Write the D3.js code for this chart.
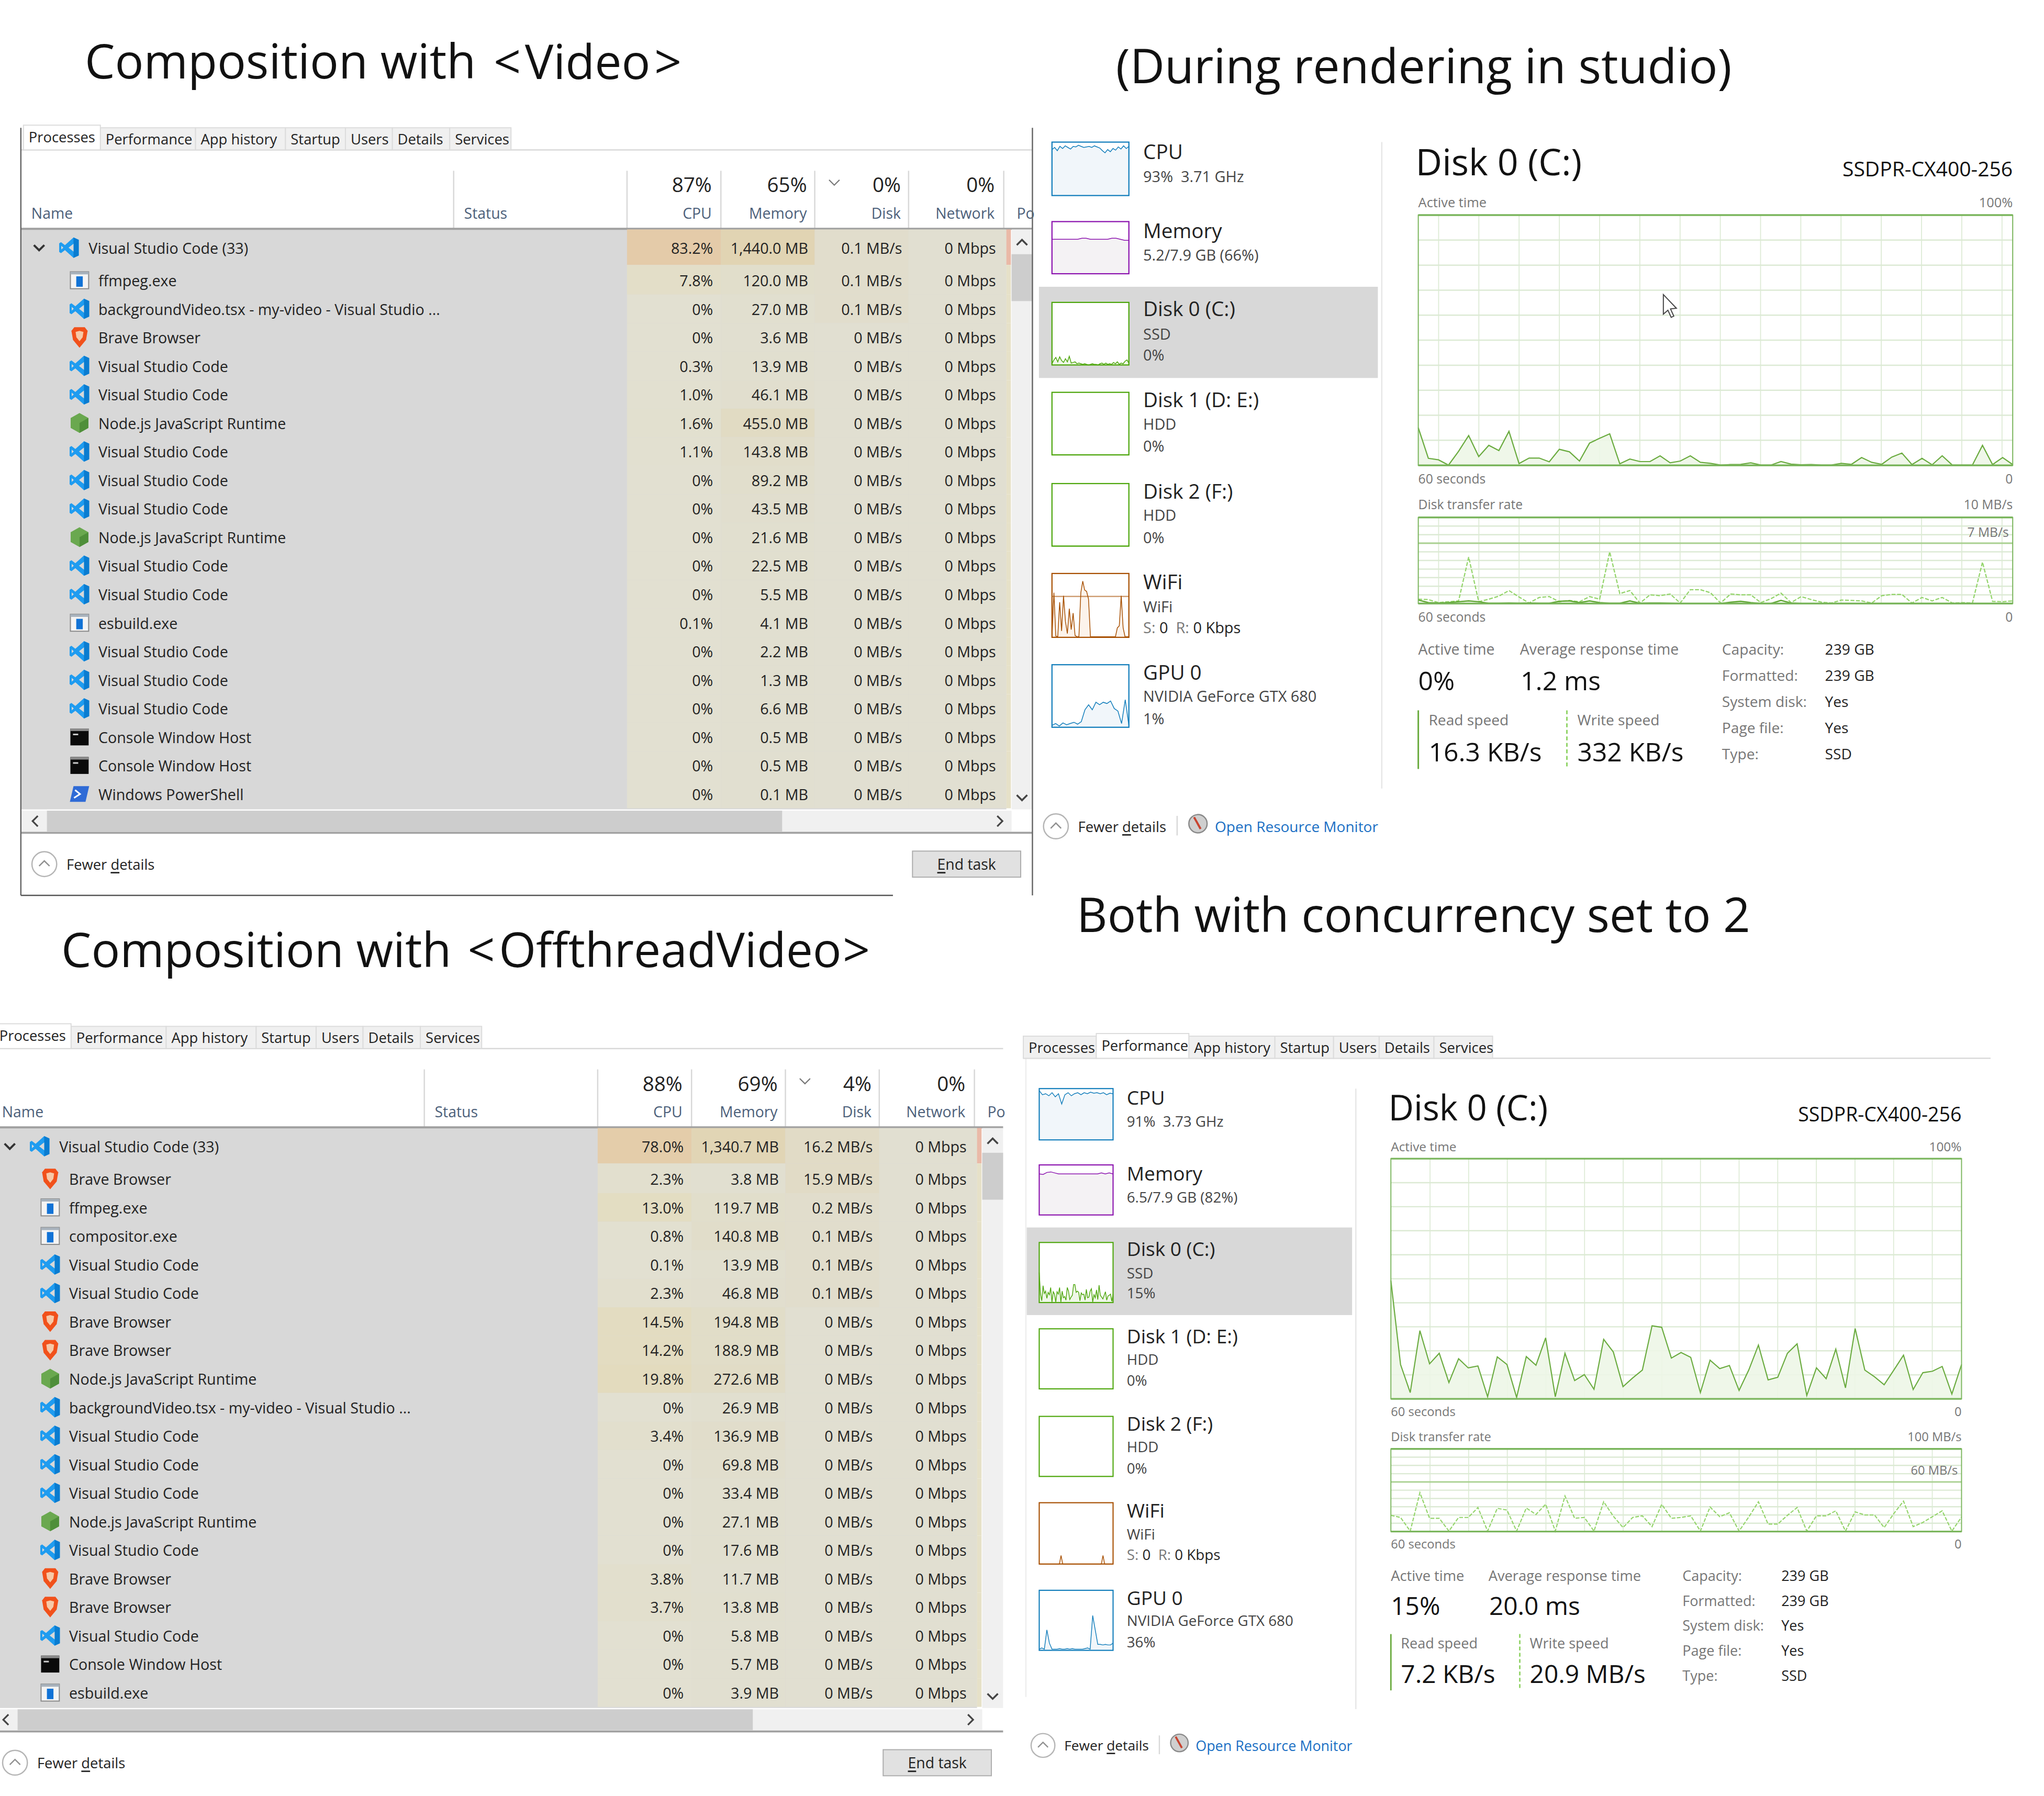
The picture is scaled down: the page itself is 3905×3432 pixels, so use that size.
<!DOCTYPE html>
<html>
<head>
<meta charset="utf-8">
<script src="https://cdn.jsdelivr.net/npm/d3@7"></script>
<style>
html,body{margin:0;padding:0;background:#fff}
svg{display:block}
text{font-family:"Open Sans","Noto Sans",sans-serif}
</style>
</head>
<body>
<div id="caja"></div>
<script>
// ---------- task manager tables ----------
var tabs = ["Processes","Performance","App history","Startup","Users","Details","Services"];
var vs = "Visual Studio Code", br = "Brave Browser", nd = "Node.js JavaScript Runtime", ch = "Console Window Host";

var namesA = [vs+" (33)","ffmpeg.exe","backgroundVideo.tsx - my-video - Visual Studio ...",br,vs,vs,nd,vs,vs,vs,nd,vs,vs,"esbuild.exe",vs,vs,vs,ch,ch,"Windows PowerShell"];
var iconsA = ["code","exe","code","brave","code","code","node","code","code","code","node","code","code","exe","code","code","code","console","console","ps"];
var cpuA  = [83.2,7.8,0,0,0.3,1.0,1.6,1.1,0,0,0,0,0,0.1,0,0,0,0,0,0];
var memA  = [1440.0,120.0,27.0,3.6,13.9,46.1,455.0,143.8,89.2,43.5,21.6,22.5,5.5,4.1,2.2,1.3,6.6,0.5,0.5,0.1];
var diskA = [0.1,0.1,0.1,0,0,0,0,0,0,0,0,0,0,0,0,0,0,0,0,0];
var headA = ["87%","65%","0%","0%"];

var namesC = [vs+" (33)",br,"ffmpeg.exe","compositor.exe",vs,vs,br,br,nd,"backgroundVideo.tsx - my-video - Visual Studio ...",vs,vs,vs,nd,vs,br,br,vs,ch,"esbuild.exe"];
var iconsC = ["code","brave","exe","exe","code","code","brave","brave","node","code","code","code","code","node","code","brave","brave","code","console","exe"];
var cpuC  = [78.0,2.3,13.0,0.8,0.1,2.3,14.5,14.2,19.8,0,3.4,0,0,0,0,3.8,3.7,0,0,0];
var memC  = [1340.7,3.8,119.7,140.8,13.9,46.8,194.8,188.9,272.6,26.9,136.9,69.8,33.4,27.1,17.6,11.7,13.8,5.8,5.7,3.9];
var diskC = [16.2,15.9,0.2,0.1,0.1,0.1,0,0,0,0,0,0,0,0,0,0,0,0,0,0];
var headC = ["88%","69%","4%","0%"];

var headLabels = ["CPU","Memory","Disk","Network"];

// ---------- performance panels, 60 samples ----------
var activeB = [15.0,2.8,2.2,0.1,5.6,11.9,3.5,8,5.9,13.6,0.7,2.9,2.9,1.4,6.4,5.4,1.7,8.9,10.8,12.6,0.6,2.5,1.5,1.5,3.8,1,1.7,3.8,1.2,0.8,0.1,0.3,0.4,1,0.1,0.1,1.5,0.5,0.2,0.3,0.1,0.1,0.8,0.4,3.1,1.2,0.4,3.3,4.9,0.3,2.8,0.2,3.8,0.1,0.1,0.1,8,0.3,3.1,0.3];
var writeB = [0.5,0.45,0.1,0.2,0.3,5.4,0.2,0.5,0.85,1.5,0.75,0.05,0.7,0.8,0.2,0.35,0.2,0.8,0.5,6,1.15,1.5,0.05,1,0.9,1.1,0.05,1.6,1.6,1.25,0.05,1.1,1,1,0.1,0.55,1.2,0.1,0.8,0.45,0.15,0.05,0.4,0.35,0.3,0.05,0.9,1.05,1.05,0.05,0.7,0.3,0.7,0.05,0.1,0.05,4.8,0.25,0.2,0.3];
var readB  = [0.4,0.1,0.05,0.1,0.2,0.3,0.2,0.02,0.02,0.05,0.02,0.05,0.02,0.02,0.25,0.3,0.1,0.3,0.1,0.02,0.02,0.3,0.02,0.05,0.05,0.02,0,0,0,0,0,0.15,0.25,0.1,0,0,0.35,0.05,0,0,0,0,0,0,0,0,0,0,0,0,0,0,0,0,0,0,0,0,0,0];

var activeD = [49.3,14.3,2.6,28.4,14.6,19,6.8,16.7,12.9,13.7,0.9,17.5,14.3,0.6,17.6,14,25.4,0.9,19,7.6,10.1,4,24.8,19.5,5.1,8.7,12,30.4,29.8,17,19.3,17.3,2.6,16.1,12.6,13.9,3.5,12,22.4,7.9,9,19,22.9,1.4,12.9,8.4,20.7,4.6,29.3,12,9.2,5.9,12,18.2,3.9,10.9,11.5,13.5,2,14.3];
var writeD = [19.6,17,0.5,47,16,16,0.5,17,17,29,0.5,28,26,0.5,28.4,20.6,33,0.5,43,16,17,0.5,36,18.5,4.8,17,19,5.9,32.8,16,17,19,0.5,29.7,17.9,22.7,0.5,17.5,36,9,9,19.6,29,0.5,19,19,25,0.5,23.8,20,20,4.8,21.7,36.8,5.9,11,18,25,0.5,17.5];
var readD  = [0.3,0.2,0,0.2,0.1,0,0,0.1,0,0,0,0.1,0,0,0,0.1,0,0,0,0.1,0,0,0,0,0.1,0,0,0,0,0.1,0,0,0,0,0,0,0,0,0,0,0,0.1,0,0,0,0,0,0,0,0,0,0,0,0,0,0,0,0,0,0];

// thumbnails
var cpuSparkB  = [86,90,84,92,88,93,90,87,92,91,94,92,90,91,92,90,93,91,89,84,80,86,82,88,85,91,87,93,88,92];
var memSparkB  = [66,66,66,66,66,66,66,68,68,66,66,66,66,66,68,68,66,64,64];
var diskSparkB = [2,8,12,5,13,7,4,10,5,14,3,4,5,2,3,2,1,2,1,0,1,2,1,1,0,2,3,1,3,1,2,1,4,2,5,1,3,2,6,8,3];
var wifiSparkB = [1,70,2,1,55,10,65,25,6,45,12,38,3,1,1,70,88,74,72,60,1,1,1,1,1,1,1,1,1,1,1,1,1,1,15,18,65,15,1,1,1];
var gpuSparkB  = [3,6,2,7,4,6,8,5,9,28,36,28,40,36,40,38,42,30,26,6,44,3];
var cpuSparkD  = [96,88,90,86,92,84,90,70,88,92,86,90,92,88,92,90,93,91,92,90,92,88,91,90];
var memSparkD  = [82,81,85,86,84,82,82,82,82,82,82,82,82,82,82,82,84,82,84,82];
var diskSparkD = [50,14,3,28,15,19,7,17,13,25,1,18,14,1,18,14,25,1,19,8,10,4,25,19,5,9,12,30,30,17,19,17,3,16,13,14,4,22,8,9,19,23,1,13,8,21,5,29,12,9,6,12,18,4,11,12,14,2,14];
var wifiSparkD = [0,0,0,0,0,0,0,0,0,0,0,0,0,14,0,0,0,0,0,0,0,0,0,0,0,0,0,0,0,0,0,0,0,0,0,0,0,0,14,0,0,0,0,0,0];
var gpuSparkD  = [2,4,2,34,12,2,2,2,3,2,2,3,2,3,2,2,2,2,3,4,2,58,34,10,10,9,10,9,9,12];

var sideNames = ["CPU","Memory","Disk 0 (C:)","Disk 1 (D: E:)","Disk 2 (F:)","WiFi","GPU 0"];
var sideSubB  = ["93%\u00a0 3.71 GHz","5.2/7.9 GB (66%)","SSD","HDD","HDD","WiFi","NVIDIA GeForce GTX 680"];
var sideSubD  = ["91%\u00a0 3.73 GHz","6.5/7.9 GB (82%)","SSD","HDD","HDD","WiFi","NVIDIA GeForce GTX 680"];
var sideThirdB = ["","","0%","0%","0%","","1%"];
var sideThirdD = ["","","15%","0%","0%","","36%"];
var diskInfoLabels = ["Capacity:","Formatted:","System disk:","Page file:","Type:"];
var diskInfoValues = ["239 GB","239 GB","Yes","Yes","SSD"];

// ---------- page ----------
var w = 1568, h = 1378;
var chart = d3.select("#caja").append("svg")
	.attr("width", 3905).attr("height", 3432)
	.attr("viewBox", "0 0 " + w + " " + h)
	.style("background", "#fff");

function label(g, x, y, s, size, color, anchor) {
	return g.append("text").attr("x", x).attr("y", y)
		.attr("dominant-baseline", "central")
		.attr("text-anchor", anchor || "start")
		.attr("font-size", size).attr("fill", color || "#222").text(s);
}

// titles, the <...> part gets a little extra room like the original font
var titles = [
	{s:"Composition with ", tag:"Video", x:65, y:46, size:36.7, g:[4,3,3]},
	{s:"(During rendering in studio)", x:856, y:49.5, size:36.7},
	{s:"Both with concurrency set to 2", x:826, y:701, size:36.4},
	{s:"Composition with ", tag:"OffthreadVideo", x:47, y:728, size:36.6, g:[3,3,1]}
];
titles.forEach(function(t){
	var e = label(chart, t.x, t.y, t.s, t.size, "#111");
	if (t.tag) {
		e.append("tspan").attr("dx", t.g[0]).text("<");
		e.append("tspan").attr("dx", t.g[1]).text(t.tag);
		e.append("tspan").attr("dx", t.g[2]).text(">");
	}
});

// ---------- icons ----------
function icon(g, kind, x, y) {
	var i = g.append("g").attr("transform", "translate(" + (x-8) + "," + (y-8) + ")");
	if (kind == "code") {
		i.append("path").attr("d","M11.4 0.2 L15.4 2 V14 L11.4 15.8 L4.8 9.9 L1.8 12.2 L0.4 11.3 V4.7 L1.8 3.8 L4.8 6.1 Z").attr("fill","#1f9cf0");
		i.append("path").attr("d","M11.4 0.2 L15.4 2 V14 L11.4 15.8 Z").attr("fill","#0a7cd0");
		i.append("path").attr("d","M11.4 5 L7.6 8 L11.4 11 Z").attr("fill","#d8d8d8");
		i.append("path").attr("d","M2 6.6 L3.6 8 L2 9.4 Z").attr("fill","#d8d8d8");
	} else if (kind == "brave") {
		i.append("path").attr("d","M4 0.2 H12 L14.2 3 L13 10 L8 16 L3 10 L1.8 3 Z").attr("fill","#f1511b");
		i.append("path").attr("d","M5 3.8 L8 3 L11 3.8 L10.4 8 L8 11 L5.6 8 Z").attr("fill","#f6c9a8");
	} else if (kind == "node") {
		i.append("path").attr("d","M8 0.4 L14.8 4.2 V11.8 L8 15.6 L1.2 11.8 V4.2 Z").attr("fill","#6aa84f");
		i.append("path").attr("d","M8 8 L14.8 4.2 V11.8 L8 15.6 Z").attr("fill","#4f8f3a");
	} else if (kind == "exe") {
		i.append("rect").attr("x",1).attr("y",1.5).attr("width",14).attr("height",13).attr("fill","#f4f4f4").attr("stroke","#8a8a8a").attr("stroke-width",0.8);
		i.append("rect").attr("x",1).attr("y",1.5).attr("width",14).attr("height",2).attr("fill","#a8b2bc");
		i.append("rect").attr("x",5.5).attr("y",5).attr("width",5).attr("height",8).attr("fill","#1273d6");
	} else if (kind == "console") {
		i.append("rect").attr("x",1).attr("y",1.5).attr("width",14).attr("height",13).attr("fill","#0a0a0a");
		i.append("rect").attr("x",1).attr("y",1.5).attr("width",14).attr("height",2).attr("fill","#8a8a8a");
		i.append("rect").attr("x",3).attr("y",5.5).attr("width",4).attr("height",1.2).attr("fill","#ccc");
	} else if (kind == "ps") {
		i.append("path").attr("d","M3.4 2 H15.4 L12.6 14 H0.6 Z").attr("fill","#2f6bd6");
		i.append("path").attr("d","M4.6 5 L8.4 8 L3.8 11").attr("fill","none").attr("stroke","#fff").attr("stroke-width",1.2);
	}
}

function chevron(g, x, y, up, color, sw) {
	var s = up ? -1 : 1;
	g.append("path").attr("d","M"+(x-4)+","+(y-2*s)+" L"+x+","+(y+2*s)+" L"+(x+4)+","+(y-2*s))
		.attr("fill","none").attr("stroke",color||"#444").attr("stroke-width",sw||1.3);
}

function fewerDetails(g, cx, cy, tx) {
	g.append("circle").attr("cx",cx).attr("cy",cy).attr("r",9.5).attr("fill","#fff").attr("stroke","#b5b5b5").attr("stroke-width",1);
	chevron(g, cx, cy-0.5, true, "#909090", 1);
	var t = label(g, tx, cy, "", 11, "#222");
	t.append("tspan").text("Fewer ");
	t.append("tspan").attr("text-decoration","underline").text("d");
	t.append("tspan").text("etails");
}

// ---------- task manager panel ----------
var tabLeft  = [18,77,150,219,265,301,345,392];
var colLeft  = [481,553,625,697,770];
var colRight = [547,620,692,764];
var cpuColor  = d3.scaleLinear().domain([0,15,85]).range(["#e2e0d1","#e3dcc0","#e4cba8"]);
var memColor  = d3.scaleLinear().domain([0,250,1500]).range(["#e1dfd0","#e1dcc6","#e1d4b2"]);
var diskColor = d3.scaleLinear().domain([0,0.1,20]).range(["#e1dfd1","#e1ddcc","#e1dac4"]);

function fmtCpu(v){ return v == 0 ? "0%" : v.toFixed(1) + "%"; }
function fmtMem(v){ return d3.format(",.1f")(v) + " MB"; }
function fmtDisk(v){ return (v == 0 ? "0" : v.toFixed(1)) + " MB/s"; }

function tabStrip(g, lefts, activeTab, baseY, lineFrom, lineTo) {
	g.append("line").attr("x1",lineFrom).attr("x2",lineTo).attr("y1",baseY).attr("y2",baseY).attr("stroke","#d9d9d9");
	var order = d3.range(tabs.length).filter(function(i){ return i != activeTab; }).concat([activeTab]);
	order.forEach(function(i){
		var active = i == activeTab;
		g.append("rect").attr("x",lefts[i]).attr("y",baseY - (active ? 19 : 17)).attr("width",lefts[i+1]-lefts[i]).attr("height",active ? 19 : 17)
			.attr("fill",active ? "#fff" : "#f0f0f0").attr("stroke","#dcdcdc").attr("stroke-width",0.8);
		label(g, lefts[i]+4, baseY - (active ? 10 : 8.5), tabs[i], 11, "#222");
	});
}

function taskPanel(dx, dy, names, icons, cpu, mem, disk, head, framed) {
	var g = chart.append("g").attr("transform","translate("+dx+","+dy+")");
	var rightEdge = 792;

	tabStrip(g, tabLeft, 0, 115, 16, rightEdge);

	// header
	var rowY = d3.scaleLinear().domain([0,1]).range([215,236.9]);
	[348,481,553,625,697,770].forEach(function(x){
		g.append("line").attr("x1",x).attr("x2",x).attr("y1",131).attr("y2",175).attr("stroke","#d8d8d8");
	});
	label(g, 24, 163.5, "Name", 11.4, "#4c607a");
	label(g, 356, 163.5, "Status", 11.4, "#4c607a");
	headLabels.forEach(function(s,i){
		label(g, colRight[i]-1, 163.5, s, 11.4, "#4c607a", "end");
		label(g, colRight[i]-1, 141.5, head[i], 15.5, "#222", "end");
	});
	chevron(g, 640, 140, false, "#777", 0.9);
	label(g, 780, 163.5, "Po", 11.4, "#4c607a");

	// rows
	g.append("rect").attr("x",16).attr("y",176).attr("width",756).attr("height",445).attr("fill","#d8d8d8");
	g.append("line").attr("x1",16).attr("x2",rightEdge).attr("y1",175.5).attr("y2",175.5).attr("stroke","#a0a0a0").attr("stroke-width",1.6);

	var table = names.map(function(n,i){ return {name:n, icon:icons[i], cpu:cpu[i], mem:mem[i], disk:disk[i], i:i}; });
	function top(d){ return d.i == 0 ? 176 : rowY(d.i-1) - (d.i == 1 ? 11.8 : 10.95); }
	function hgt(d){ return d.i == 0 ? 27.2 : (d.i == 1 ? 22.75 : 21.9); }

	var rows = g.selectAll("g.row").data(table).enter().append("g").attr("class","row");
	var fills = [function(d){return cpuColor(d.cpu);}, function(d){return memColor(d.mem);}, function(d){return diskColor(d.disk);}, function(){return "#e1dfd1";}];
	fills.forEach(function(f,c){
		rows.append("rect").attr("x",colLeft[c]).attr("y",top).attr("width",colLeft[c+1]-colLeft[c]+(c==3?2:0)).attr("height",hgt).attr("fill",f);
	});
	rows.append("rect").attr("x",772).attr("y",top).attr("width",3.5).attr("height",hgt)
		.attr("fill",function(d){ return d.i == 0 ? "#eab9a7" : "#e6e1c8"; });

	function yy(d){ return d.i == 0 ? 190 : rowY(d.i-1); }
	rows.append("text").attr("x",function(d){ return d.i == 0 ? 68 : 75.5; }).attr("y",yy)
		.attr("dominant-baseline","central").attr("font-size",11.5).attr("fill","#222").text(function(d){return d.name;});
	var cols = [function(d){return fmtCpu(d.cpu);}, function(d){return fmtMem(d.mem);}, function(d){return fmtDisk(d.disk);}, function(){return "0 Mbps";}];
	cols.forEach(function(f,c){
		rows.append("text").attr("x",colRight[c]).attr("y",yy).attr("text-anchor","end")
			.attr("dominant-baseline","central").attr("font-size",11.5).attr("fill","#222").text(f);
	});
	table.forEach(function(d){ icon(g, d.icon, d.i == 0 ? 53 : 61, yy(d)); });
	chevron(g, 30, 190, false, "#333", 1.6);

	// vertical scrollbar
	g.append("rect").attr("x",776).attr("y",176).attr("width",16).attr("height",445).attr("fill","#f0f0f0");
	g.append("rect").attr("x",776).attr("y",195).attr("width",16).attr("height",36).attr("fill","#cdcdcd");
	chevron(g, 784, 186, true, "#444", 1.4);
	chevron(g, 784, 612, false, "#444", 1.4);

	// horizontal scrollbar
	g.append("rect").attr("x",16).attr("y",622).attr("width",760).attr("height",16).attr("fill","#f0f0f0");
	g.append("rect").attr("x",36).attr("y",622).attr("width",564).attr("height",16).attr("fill","#cdcdcd");
	g.append("path").attr("d","M29,626 L25,630 L29,634").attr("fill","none").attr("stroke","#444").attr("stroke-width",1.3);
	g.append("path").attr("d","M765,626 L769,630 L765,634").attr("fill","none").attr("stroke","#444").attr("stroke-width",1.3);
	g.append("line").attr("x1",16).attr("x2",rightEdge).attr("y1",639).attr("y2",639).attr("stroke","#a0a0a0").attr("stroke-width",1.5);

	fewerDetails(g, 34, 663, 51);
	g.append("rect").attr("x",700).attr("y",653).attr("width",83).attr("height",20).attr("fill","#e1e1e1").attr("stroke","#adadad").attr("stroke-width",0.8);
	var et = label(g, 741.5, 663, "", 11.4, "#222", "middle");
	et.append("tspan").attr("text-decoration","underline").text("E");
	et.append("tspan").text("nd task");

	if (framed) {
		g.append("line").attr("x1",16).attr("x2",16).attr("y1",98).attr("y2",687).attr("stroke","#666");
		g.append("line").attr("x1",16).attr("x2",685).attr("y1",687).attr("y2",687).attr("stroke","#555");
		g.append("line").attr("x1",792).attr("x2",792).attr("y1",98).attr("y2",687).attr("stroke","#666");
	}
}

// ---------- performance panel ----------
var lineGreen = "#6aab3f", fillGreen = "#edf6e7", borderGreen = "#7ab55c", gridGreen = "#dcead4", writeGreen = "#93d46a";

function makeChart(g, x0, y0, cw, ch, maxV, gridOffset, rows, strong, series) {
	var x = d3.scaleLinear().domain([0,59]).range([x0,x0+cw]);
	var y = d3.scaleLinear().domain([0,maxV]).range([y0+ch,y0]);
	var gridX = d3.scaleLinear().domain([0,1]).range([x0,x0+cw]);
	d3.range(gridOffset, 1, 0.0677).forEach(function(f){
		g.append("line").attr("x1",gridX(f)).attr("x2",gridX(f)).attr("y1",y0).attr("y2",y0+ch).attr("stroke",gridGreen).attr("stroke-width",0.7);
	});
	d3.range(1,rows).forEach(function(k){
		var v = maxV*k/rows;
		var isStrong = strong !== null && Math.abs(v-strong) < 1e-6;
		g.append("line").attr("x1",x0).attr("x2",x0+cw).attr("y1",y(v)).attr("y2",y(v))
			.attr("stroke",isStrong ? "#a8d08f" : gridGreen).attr("stroke-width",isStrong ? 1.2 : 1);
	});
	series.forEach(function(s){
		if (s.area) {
			g.append("path").datum(s.values)
				.attr("d", d3.area().x(function(d,i){return x(i);}).y0(y(0)).y1(function(d){return y(d);}))
				.attr("fill", s.area).attr("fill-opacity",0.9);
		}
		g.append("path").datum(s.values)
			.attr("d", d3.line().x(function(d,i){return x(i);}).y(function(d){return y(d);}))
			.attr("fill","none").attr("stroke",s.color).attr("stroke-width",s.width||0.9)
			.attr("stroke-dasharray",s.dash||null);
	});
	g.append("rect").attr("x",x0).attr("y",y0).attr("width",cw).attr("height",ch)
		.attr("fill","none").attr("stroke",borderGreen).attr("stroke-width",0.8);
	g.append("line").attr("x1",x0).attr("x2",x0+cw).attr("y1",y0).attr("y2",y0).attr("stroke",borderGreen).attr("stroke-width",1.4);
	g.append("line").attr("x1",x0).attr("x2",x0+cw).attr("y1",y0+ch).attr("y2",y0+ch).attr("stroke",borderGreen).attr("stroke-width",1.4);
}

function spark(g, x0, y0, cw, ch, values, color, fill, hLine) {
	var x = d3.scaleLinear().domain([0,values.length-1]).range([x0,x0+cw]);
	var y = d3.scaleLinear().domain([0,100]).range([y0+ch,y0]);
	g.append("rect").attr("x",x0).attr("y",y0).attr("width",cw).attr("height",ch).attr("fill","#fff");
	g.append("path").datum(values).attr("d", d3.area().x(function(d,i){return x(i);}).y0(y(0)).y1(function(d){return y(d);})).attr("fill",fill);
	if (hLine) g.append("line").attr("x1",x0).attr("x2",x0+cw).attr("y1",y(hLine)).attr("y2",y(hLine)).attr("stroke",color).attr("stroke-opacity",0.55);
	g.append("path").datum(values).attr("d", d3.line().x(function(d,i){return x(i);}).y(function(d){return y(d);})).attr("fill","none").attr("stroke",color).attr("stroke-width",0.6);
	g.append("rect").attr("x",x0).attr("y",y0).attr("width",cw).attr("height",ch).attr("fill","none").attr("stroke",color).attr("stroke-width",0.9);
}

function perfPanel(tx, ty, k, p) {
	var g = chart.append("g").attr("transform","translate("+tx+","+ty+") scale("+k+")");

	// sidebar
	var thumbTop = [109,170,232,301,371,440,510];
	var thumbH   = [41,40,48,48,48,49,48];
	var nameY    = [116,176.5,236.5,306.5,376.5,446,515.5];
	var subY     = [135,195.5,256,325,395,465,534];
	var thirdY   = [0,0,272,342,412,481,551];
	var thumbCol = ["#117dbb","#8b12ae","#4da60c","#4da60c","#4da60c","#a74f01","#117dbb"];
	var thumbFill= ["#f1f6fa","#f4f2f4","#eff7e8","#fff","#fff","#fcf3eb","#f1f6fa"];
	var thumbVal = [p.cpuSpark,p.memSpark,p.diskSpark,[0,0],[0,0],p.wifiSpark,p.gpuSpark];

	g.append("rect").attr("x",797).attr("y",220).attr("width",260).attr("height",70).attr("fill","#d8d8d8");
	g.append("line").attr("x1",1060).attr("x2",1060).attr("y1",109).attr("y2",605).attr("stroke","#e6e6e6");

	sideNames.forEach(function(n,i){
		spark(g, 807, thumbTop[i], 59, thumbH[i], thumbVal[i], thumbCol[i], thumbFill[i], (i == 5 && p.wifiLine) ? p.wifiLine : null);
		label(g, 877, nameY[i], n, 15.5, "#222");
		label(g, 877, subY[i], p.sideSub[i], 11.6, "#444");
		if (i >= 2) {
			if (i == 5) {
				var t = label(g, 877, thirdY[i], "", 11.6, "#777");
				t.append("tspan").text("S:\u00a0");
				t.append("tspan").attr("fill","#222").text("0\u00a0 ");
				t.append("tspan").text("R:\u00a0");
				t.append("tspan").attr("fill","#222").text("0 Kbps");
			} else {
				label(g, 877, thirdY[i], p.sideThird[i], 11.6, "#444");
			}
		}
	});

	// head
	label(g, 1086, 123.5, "Disk 0 (C:)", 28, "#111");
	label(g, 1544, 129, "SSDPR-CX400-256", 15.7, "#111", "end");

	// active time
	label(g, 1088, 155, "Active time", 10.2, "#767676");
	label(g, 1544, 155, "100%", 10.2, "#767676", "end");
	makeChart(g, 1088, 165, 456, 192, 100, p.gridOffset, 10, null,
		[{values:p.active, color:lineGreen, area:fillGreen}]);
	label(g, 1088, 367, "60 seconds", 9.9, "#767676");
	label(g, 1544, 367, "0", 9.9, "#767676", "end");

	// transfer rate
	label(g, 1088, 387, "Disk transfer rate", 9.9, "#767676");
	label(g, 1544, 387, p.maxLabel, 9.9, "#767676", "end");
	makeChart(g, 1088, 397, 456, 66, p.maxRate, p.gridOffset, 10, p.strong,
		[{values:p.write, color:writeGreen, dash:"3,1.2"}, {values:p.read, color:"#5da52f", width:1}]);
	label(g, 1541, p.strongY, p.strongLabel, 9.9, "#767676", "end");
	label(g, 1088, 473, "60 seconds", 9.9, "#767676");
	label(g, 1544, 473, "0", 9.9, "#767676", "end");

	// stats
	label(g, 1088, 498, "Active time", 11.4, "#767676");
	label(g, 1166, 498, "Average response time", 11.4, "#767676");
	label(g, 1088, 522, p.activeNow, 20, "#111");
	label(g, 1166.5, 522, p.response, 20, "#111");
	g.append("line").attr("x1",1088).attr("x2",1088).attr("y1",545).attr("y2",590).attr("stroke",lineGreen).attr("stroke-width",1.2);
	g.append("line").attr("x1",p.writeX).attr("x2",p.writeX).attr("y1",545).attr("y2",590).attr("stroke",writeGreen).attr("stroke-width",1.2).attr("stroke-dasharray","3,2");
	label(g, 1096, 552, "Read speed", 11.3, "#767676");
	label(g, p.writeX+8, 552, "Write speed", 11.3, "#767676");
	label(g, 1096, 576.5, p.readNow, 20, "#111");
	label(g, p.writeX+8, 576.5, p.writeNow, 20, "#111");
	diskInfoLabels.forEach(function(s,i){
		label(g, 1321, 498+20*i, s, 11.3, "#767676");
		label(g, 1400, 498+20*i, diskInfoValues[i], 11.3, "#222");
	});

	// footer
	fewerDetails(g, 810, 634, 827);
	g.append("line").attr("x1",903).attr("x2",903).attr("y1",626).attr("y2",641).attr("stroke","#d8d8d8");
	g.append("circle").attr("cx",919).attr("cy",632).attr("r",7).attr("fill","#cfcfcf").attr("stroke","#8a8a8a");
	g.append("path").attr("d","M916,627 L921,636").attr("stroke","#c8432f").attr("stroke-width",1.6);
	label(g, 932, 634, "Open Resource Monitor", 11.25, "#1a6fc4");
}

taskPanel(0, 0, namesA, iconsA, cpuA, memA, diskA, headA, true);
taskPanel(-22.5, 689.5, namesC, iconsC, cpuC, memC, diskC, headC, false);
perfPanel(0, 0, 1, {
	active:activeB, write:writeB, read:readB, maxRate:10, strong:7, maxLabel:"10 MB/s", strongLabel:"7 MB/s", strongY:408,
	gridOffset:0.0342, sideSub:sideSubB, sideThird:sideThirdB, writeX:1202,
	cpuSpark:cpuSparkB, memSpark:memSparkB, diskSpark:diskSparkB, wifiSpark:wifiSparkB, gpuSpark:gpuSparkB, wifiLine:64,
	activeNow:"0%", response:"1.2 ms", readNow:"16.3 KB/s", writeNow:"332 KB/s"
});
perfPanel(22.5, 730.6, 0.96, {
	active:activeD, write:writeD, read:readD, maxRate:100, strong:60, maxLabel:"100 MB/s", strongLabel:"60 MB/s", strongY:414,
	gridOffset:0.0686, sideSub:sideSubD, sideThird:sideThirdD, writeX:1191,
	cpuSpark:cpuSparkD, memSpark:memSparkD, diskSpark:diskSparkD, wifiSpark:wifiSparkD, gpuSpark:gpuSparkD, wifiLine:null,
	activeNow:"15%", response:"20.0 ms", readNow:"7.2 KB/s", writeNow:"20.9 MB/s"
});

// tabs above the lower performance panel
var perfTabLeft = [785,841,912,978,1023,1058,1100,1145];
var tabsD = chart.append("g");
tabsD.append("line").attr("x1",787).attr("x2",787).attr("y1",812).attr("y2",1302).attr("stroke","#eeeeee");
tabStrip(tabsD, perfTabLeft, 1, 812, 785, 1527);

// cursor over the upper chart
chart.append("path").attr("d","M1276,226 L1276,241 L1279.5,238 L1282,243.5 L1284,242.5 L1281.5,237 L1286,236.5 Z")
	.attr("fill","#fff").attr("stroke","#444").attr("stroke-width",0.8);
</script>
</body>
</html>
